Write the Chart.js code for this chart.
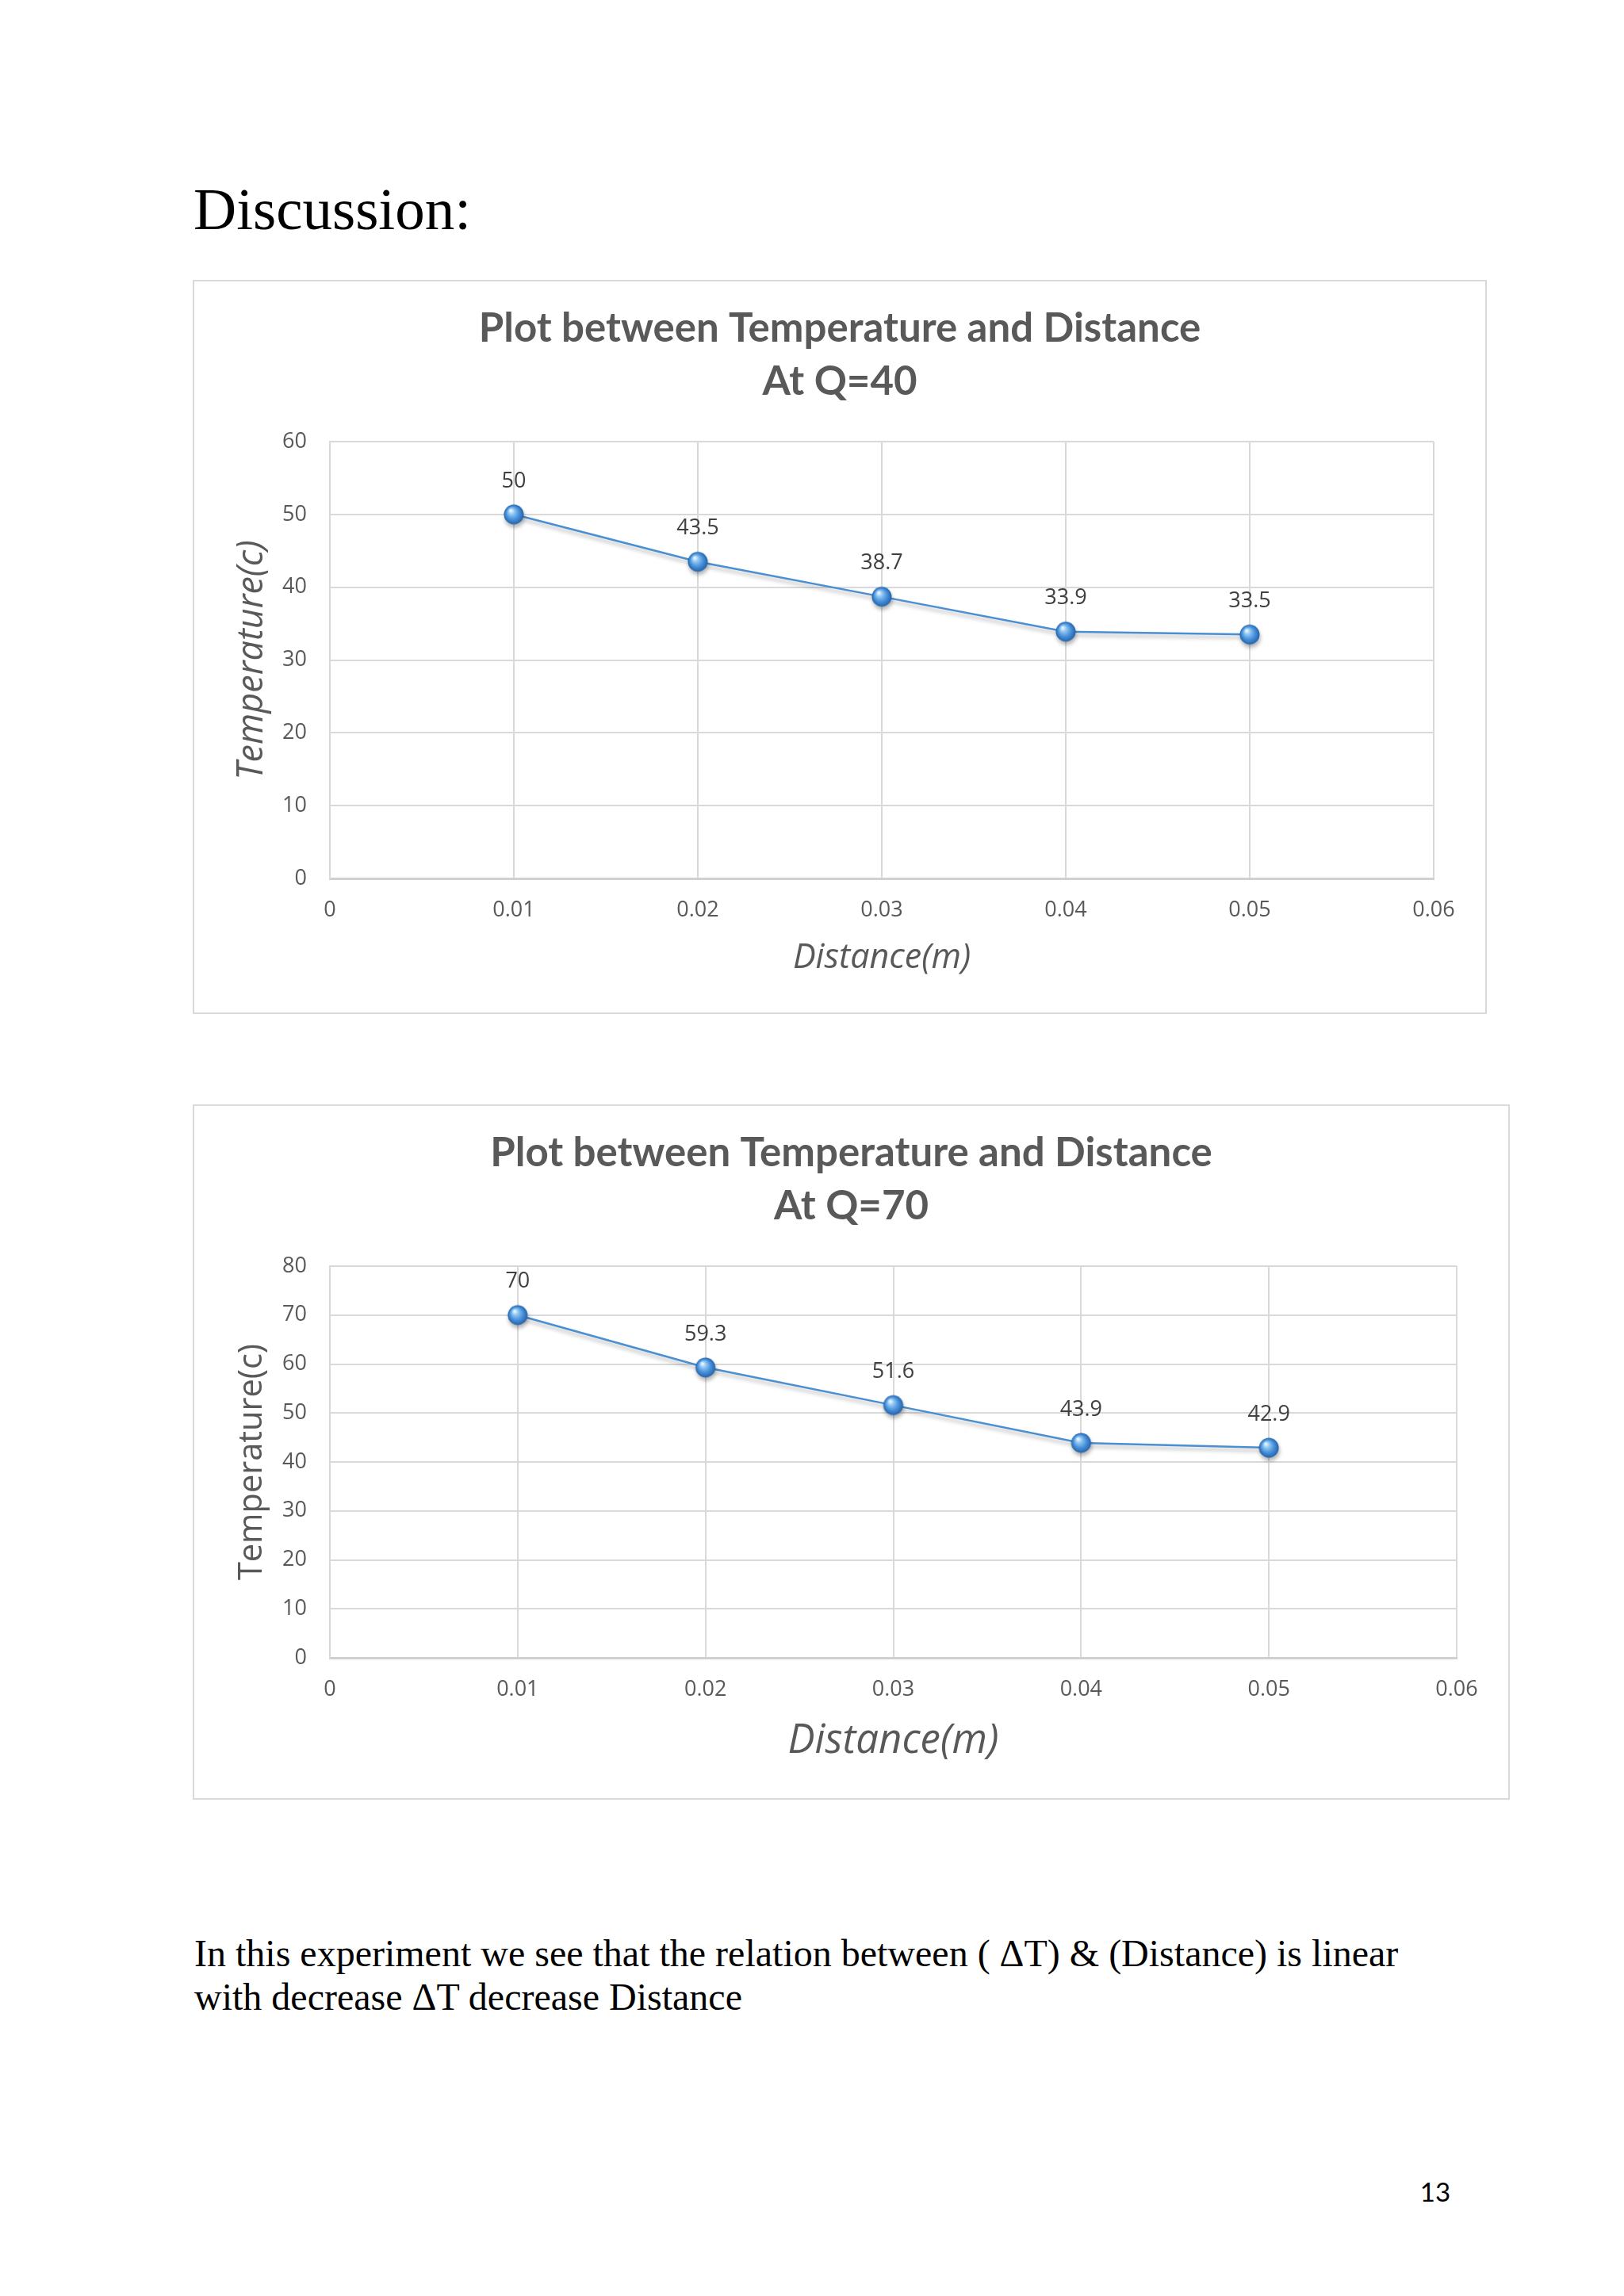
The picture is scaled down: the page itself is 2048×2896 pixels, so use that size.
<!DOCTYPE html>
<html><head><meta charset="utf-8">
<script src="https://cdn.jsdelivr.net/npm/chart.js@4.4.1/dist/chart.umd.min.js"></script>
<style>
html,body{margin:0;padding:0;background:#fff;}
#page{position:relative;width:2048px;height:2896px;background:#fff;overflow:hidden;}
.txt{position:absolute;white-space:nowrap;color:#000;}
.box{position:absolute;background:#fff;}
.box canvas{position:absolute;left:0;top:0;}
.frame{position:absolute;left:0;top:0;right:0;bottom:0;border:2px solid #d9d9d9;box-sizing:border-box;pointer-events:none;}
</style></head><body>
<div id="page">
<div class="txt" style="left:244px;top:226px;font:75px/1 'Liberation Serif';">Discussion:</div>
<div class="box" style="left:243px;top:353px;width:1632px;height:926px;"><canvas id="c1" width="1632" height="926" style="width:1632px;height:926px"></canvas><div class="frame"></div></div>
<div class="box" style="left:243px;top:1393px;width:1661px;height:877px;"><canvas id="c2" width="1661" height="877" style="width:1661px;height:877px"></canvas><div class="frame"></div></div>
<div class="txt" style="left:245px;top:2436px;font:48px/55px 'Liberation Serif';">In this experiment we see that the relation between ( ΔT) &amp; (Distance) is linear<br>with decrease ΔT decrease Distance</div>
<div class="txt" style="left:1760px;top:2748px;width:100px;text-align:center;font:33px/1 Lato;">13</div>
</div>
<script>
const distance = [0.01, 0.02, 0.03, 0.04, 0.05];
const tempQ40 = [50, 43.5, 38.7, 33.9, 33.5];
const tempQ70 = [70, 59.3, 51.6, 43.9, 42.9];
const xTickValues = [0, 0.01, 0.02, 0.03, 0.04, 0.05, 0.06];
const xTickLabels = ['0', '0.01', '0.02', '0.03', '0.04', '0.05', '0.06'];
const yTicksQ40 = [0, 10, 20, 30, 40, 50, 60];
const yTicksQ70 = [0, 10, 20, 30, 40, 50, 60, 70, 80];
const titleQ40 = ['Plot between Temperature and Distance', 'At Q=40'];
const titleQ70 = ['Plot between Temperature and Distance', 'At Q=70'];
const xAxisTitle = 'Distance(m)';
const yAxisTitle = 'Temperature(c)';

function sphere() {
  const c = document.createElement('canvas');
  c.width = 30; c.height = 30;
  const g = c.getContext('2d');
  const cx = 15, cy = 15, r = 12.5;
  const grad = g.createRadialGradient(cx - 4, cy - 5, 1, cx, cy, r);
  grad.addColorStop(0, '#e6f3ff');
  grad.addColorStop(0.25, '#8fc6f3');
  grad.addColorStop(0.6, '#4b94dc');
  grad.addColorStop(1, '#2463ab');
  g.beginPath(); g.arc(cx, cy, r, 0, Math.PI * 2);
  g.fillStyle = grad; g.fill();
  return c;
}

const lineShadow = {
  id: 'lineShadow',
  beforeDatasetsDraw(chart) {
    const c = chart.ctx; c.save();
    c.shadowColor = 'rgba(0,0,0,0.3)'; c.shadowBlur = 5; c.shadowOffsetX = 1; c.shadowOffsetY = 4;
  },
  afterDatasetsDraw(chart) { chart.ctx.restore(); }
};

const valueLabels = {
  id: 'valueLabels',
  afterDatasetsDraw(chart) {
    const ctx = chart.ctx;
    chart.data.datasets.forEach((ds, di) => {
      const meta = chart.getDatasetMeta(di);
      ctx.save();
      ctx.font = "27px 'Open Sans'";
      ctx.fillStyle = '#404040';
      ctx.textAlign = 'center';
      ctx.textBaseline = 'middle';
      meta.data.forEach((pt, i) => {
        ctx.fillText(String(ds.data[i].y), pt.x, pt.y - 42);
      });
      ctx.restore();
    });
  }
};

function makeChart(id, yData, yTicks, titleText, cfg) {
  const sph = sphere();
  const tickFont = { family: 'Open Sans', size: 27 };
  return new Chart(document.getElementById(id), {
    type: 'scatter',
    data: {
      datasets: [{
        data: distance.map((x, i) => ({ x: x, y: yData[i] })),
        showLine: true,
        borderColor: '#4a8fd2',
        borderWidth: 2.5,
        pointStyle: sph,
        pointRadius: 13,
        pointHoverRadius: 13,
        tension: 0
      }]
    },
    options: {
      responsive: false,
      animation: false,
      events: [],
      layout: { padding: { left: 30, right: 30, top: 0, bottom: 0 } },
      plugins: {
        legend: { display: false },
        tooltip: { enabled: false },
        title: {
          display: true, text: titleText, color: '#595959',
          font: { family: 'Lato', weight: 'bold', size: 51, lineHeight: '67px' },
          padding: { top: 28.5, bottom: 41.5 }
        }
      },
      scales: {
        x: {
          type: 'linear', position: 'bottom',
          min: xTickValues[0], max: xTickValues[xTickValues.length - 1],
          afterBuildTicks: s => { s.ticks = xTickValues.map(v => ({ value: v })); },
          ticks: { callback: (v, i) => xTickLabels[i], color: '#595959', font: tickFont, padding: 24, maxRotation: 0, autoSkip: false },
          grid: { color: '#d9d9d9', lineWidth: 2, drawTicks: false },
          border: { color: '#d0d0d0', width: 3 },
          title: {
            display: true, text: xAxisTitle, color: '#595959',
            font: { family: 'Open Sans', style: 'italic', size: cfg.xtSize, lineHeight: 1.2 },
            padding: { top: 0, bottom: cfg.xtPad }
          },
          afterFit: s => { s.height = cfg.xH; }
        },
        y: {
          type: 'linear', position: 'left',
          min: yTicks[0], max: yTicks[yTicks.length - 1],
          afterBuildTicks: s => { s.ticks = yTicks.map(v => ({ value: v })); },
          ticks: { callback: v => String(v), color: '#595959', font: tickFont, padding: 29, autoSkip: false },
          grid: { color: '#d9d9d9', lineWidth: 2, drawTicks: false },
          border: { color: '#d9d9d9', width: 2 },
          title: {
            display: true, text: yAxisTitle, color: '#595959',
            font: { family: 'Open Sans', style: cfg.ytStyle, size: cfg.ytSize, lineHeight: 1.2 },
            padding: { top: cfg.ytPad, bottom: 0 }
          },
          afterFit: s => { s.width = 143; }
        },
        pad: {
          type: 'linear', position: 'right', display: true,
          grid: { display: false, drawTicks: false },
          ticks: { display: false },
          border: { display: false },
          afterFit: s => { s.width = 37; }
        }
      }
    },
    plugins: [lineShadow, valueLabels]
  });
}

makeChart('c1', tempQ40, yTicksQ40, titleQ40, { xtSize: 43, xtPad: 44, xH: 171, ytStyle: 'italic', ytSize: 45, ytPad: 18 });
makeChart('c2', tempQ70, yTicksQ70, titleQ70, { xtSize: 51, xtPad: 43, xH: 179, ytStyle: 'normal', ytSize: 41.5, ytPad: 20 });
</script>
</body></html>
